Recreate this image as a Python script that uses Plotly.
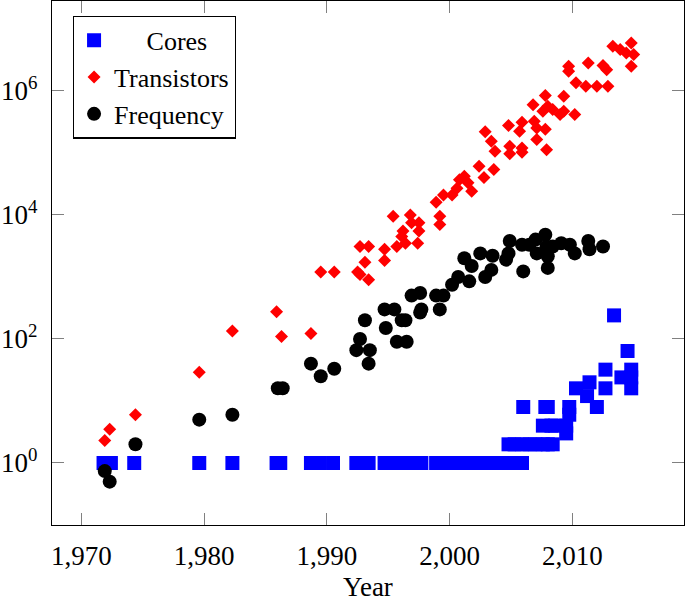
import plotly.graph_objects as go

# ---- data ----
core_years = [1971.8, 1972.4, 1974.3, 1979.6, 1982.3, 1985.9, 1986.2, 1988.7, 1989.4, 1990.5,
              1992.4, 1993.0, 1993.4, 1994.7, 1995.4, 1995.7, 1996.2, 1996.8, 1997.4, 1997.7,
              1998.9, 1999.5, 2000.2, 2000.8, 2001.5, 2002.4, 2002.9, 2003.4, 2003.8, 2004.9,
              2005.4, 2005.9,
              2004.8, 2005.3, 2005.9, 2006.5, 2007.0, 2007.6, 2008.0, 2008.4,
              2007.6, 2008.3, 2008.6, 2009.5,
              2009.5,
              2006.0, 2007.8, 2008.0, 2009.75, 2012.0,
              2009.75,
              2010.3, 2012.7, 2014.8,
              2011.4, 2011.2,
              2012.7, 2014.8,
              2014.0, 2014.8,
              2014.5, 2013.4]
core_counts = [1] * 32 + [2] * 8 + [4] * 4 + [3] + [8] * 5 + [6] + [16] * 3 + [20, 12] + [32] * 2 + [24] * 2 + [64, 240]

trans_years = [1971.9, 1972.3, 1974.4, 1979.6, 1982.3, 1985.9, 1986.3, 1988.7, 1989.5, 1990.6,
               1992.5, 1992.7, 1992.7, 1993.1, 1993.4, 1993.4, 1994.7, 1994.7, 1995.4, 1995.7,
               1996.1, 1996.2, 1996.4, 1996.8, 1996.9, 1997.4, 1997.5, 1997.5, 1998.9, 1999.2,
               1999.2, 1999.5, 2000.2, 2000.6, 2000.8, 2001.2, 2001.5, 2001.8, 2002.4, 2002.8,
               2002.9, 2003.4, 2003.6, 2003.7, 2004.8, 2004.9, 2004.9, 2005.7, 2005.9, 2005.9,
               2005.9, 2006.8, 2006.9, 2007.1, 2007.1, 2007.6, 2007.8, 2007.8, 2007.9, 2008.0,
               2008.4, 2009.0, 2009.3, 2009.3, 2009.7, 2009.7, 2010.2, 2010.3, 2011.1, 2011.3,
               2012.0, 2012.5, 2012.8, 2012.9, 2013.3, 2013.9, 2014.4, 2014.8, 2015.0, 2014.8]
trans_counts = [2.3, 3.5, 6.0, 29, 134, 275, 110, 122, 1200, 1200,
                1200, 3100, 1100, 1720, 3100, 900, 2800, 1850, 9500, 3100,
                4500, 5500, 3500, 10000, 7500, 3500, 5500, 7500, 16000, 9500,
                7000, 21000, 21000, 27000, 37000, 42000, 33000, 24000, 61000, 40000,
                220000, 154000, 54000, 106000, 276000, 128000, 97000, 223000, 312000, 120000,
                103000, 600000, 324000, 253000, 164000, 470000, 840000, 240000, 113000, 566000,
                500000, 415000, 820000, 470000, 2500000, 2070000, 415000, 1350000, 1190000, 2830000,
                1190000, 2560000, 2200000, 1190000, 5250000, 4640000, 4100000, 5900000, 3850000, 2500000]

freq_years = [1971.9, 1972.3, 1974.4, 1979.6, 1982.3, 1986.0, 1986.4, 1988.7, 1989.5, 1990.6,
              1992.4, 1992.7, 1993.1, 1993.5, 1993.4, 1994.7, 1994.8, 1995.5, 1995.7, 1996.5,
              1996.1, 1996.4, 1996.9, 1997.6, 1997.6, 1997.7, 1998.9, 1999.2, 1999.5, 2000.2,
              2000.7, 2001.2, 2001.8, 2001.6, 2002.5, 2002.9, 2003.5, 2003.4, 2004.6, 2004.8,
              2004.9, 2005.9, 2006.0, 2006.5, 2007.0, 2007.1, 2007.8, 2007.9, 2008.0, 2008.0,
              2008.4, 2009.1, 2009.8, 2010.2, 2011.3, 2011.4, 2012.5]
freq_mhz = [0.74, 0.5, 2, 5, 6, 16, 16, 40, 25, 33,
            66, 100, 200, 66, 40, 300, 150, 300, 90, 90,
            200, 200, 500, 550, 266, 300, 500, 300, 500, 750,
            1000, 2000, 1500, 850, 2400, 1000, 2200, 1300, 1900, 2400,
            3800, 3300, 1230, 3300, 4000, 2400, 4800, 3100, 2150, 1400,
            3100, 3500, 3300, 2400, 3800, 2800, 3100]

x_ticks = [1970, 1980, 1990, 2000, 2010]
y_tickvals = [1, 100, 10000, 1000000]
y_ticktext = ["10<sup>0</sup>", "10<sup>2</sup>", "10<sup>4</sup>", "10<sup>6</sup>"]

FONT = "Liberation Serif"
FS = 27
LEGEND_FS = 26

fig = go.Figure()
fig.add_trace(go.Scatter(x=core_years, y=core_counts, mode="markers",
                         name="\u00a0\u00a0\u00a0\u00a0\u00a0Cores",
                         marker=dict(symbol="square", size=14, color="#0000ff", line=dict(width=0))))
fig.add_trace(go.Scatter(x=trans_years, y=trans_counts, mode="markers", name="Transistors",
                         marker=dict(symbol="diamond", size=10, color="#ff0000", line=dict(width=0))))
fig.add_trace(go.Scatter(x=freq_years, y=freq_mhz, mode="markers", name="Frequency",
                         marker=dict(symbol="circle", size=14, color="#000000", line=dict(width=0))))

axis_common = dict(showline=True, linecolor="#000000", linewidth=1.2, mirror="allticks",
                   ticks="inside", ticklen=12, tickwidth=1.1, tickcolor="#808080",
                   showgrid=False, zeroline=False, automargin=False,
                   tickfont=dict(family=FONT, size=FS, color="#000000"))

fig.update_xaxes(range=[1967.6, 2019.1], tickvals=x_ticks, tickformat=",d",
                 title=dict(text="Year", font=dict(family=FONT, size=FS, color="#000000"), standoff=12),
                 ticklabelstandoff=6, **axis_common)
fig.update_yaxes(type="log", range=[-1.0, 7.45], tickvals=y_tickvals, ticktext=y_ticktext,
                 ticklabelstandoff=8, **axis_common)

fig.update_layout(
    width=685, height=602,
    margin=dict(l=52, r=1, t=1, b=77, autoexpand=False),
    plot_bgcolor="#ffffff", paper_bgcolor="#ffffff",
    font=dict(family=FONT, size=FS, color="#000000"),
    legend=dict(x=0.033, y=0.972, xanchor="left", yanchor="top",
                bordercolor="#000000", borderwidth=1.2, bgcolor="#ffffff",
                font=dict(family=FONT, size=LEGEND_FS, color="#000000"),
                tracegroupgap=0, itemsizing="trace"),
    showlegend=True,
)

fig.write_html("out.html", config={"displayModeBar": False},
               post_script="document.body.style.margin='0';document.body.style.overflow='hidden';")
